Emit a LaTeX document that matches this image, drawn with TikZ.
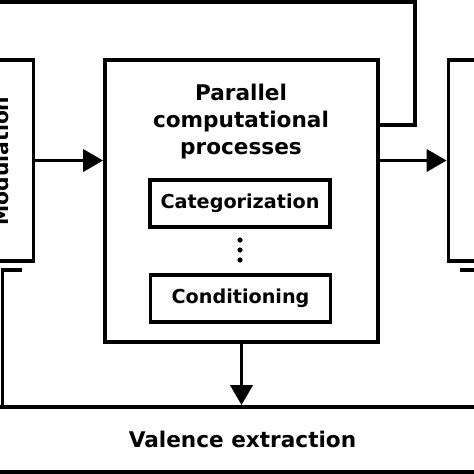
\documentclass[tikz,border=0pt]{standalone}
\usepackage{fontspec}
\setmainfont{DejaVu Sans}
\usepackage{tikz}
\usetikzlibrary{arrows.meta, positioning}
\newcommand{\blocksize}{\fontsize{21.6}{27}\selectfont}
\newcommand{\stagesize}{\fontsize{19.2}{24}\selectfont}
\tikzstyle{block} = [rectangle, draw, line width=3.8pt, inner sep=0pt, font=\blocksize\bfseries]
\tikzstyle{stage} = [rectangle, draw, line width=3.8pt, inner sep=0pt, minimum width=180pt, minimum height=47pt, font=\stagesize\bfseries]
\tikzstyle{wire} = [line width=3.8pt]
\tikzstyle{arrow} = [line width=3.8pt, -{Triangle[length=20pt, width=22pt]}]

\begin{document}
\begin{tikzpicture}[x=1pt, y=-1pt]
    \useasboundingbox (0,0) rectangle (474,474);
    \clip (0,0) rectangle (474,474);

    % Modulation (cut at the left edge)
    \node[block, minimum width=73.5pt, minimum height=201pt] (mod) at (-3.25, 160.5) {};
    \node[font=\fontsize{20.3}{25}\selectfont\bfseries, rotate=90, anchor=base, inner sep=0pt] (modtext) at (8.5, 161) {Modulation};

    % Parallel computational processes
    \node[block, minimum width=273pt, minimum height=282pt] (proc) at (241.5, 201) {};
    \node[font=\blocksize\bfseries, align=center, inner sep=0pt] (title) at (241, 121.5) {Parallel\\computational\\processes};

    % Inner stages
    \node[stage] (cat) at (240, 203.5) {Categorization};
    \node[stage] (cond) at (240.5, 298.5) {Conditioning};
    \foreach \dy in {-10, 0, 10}
        \fill (240, 250+\dy) circle (2.6);

    % Next stage (cut at the right edge)
    \node[block, minimum width=80pt, minimum height=201pt] (next) at (488.5, 160.5) {};

    % Valence extraction
    \node[block, minimum width=540pt, minimum height=65pt] (val) at (242.5, 439.5) {Valence extraction};

    % Arrows
    \draw[arrow] (mod.east) -- (mod.east -| proc.west);
    \draw[arrow] (proc.east |- next.west) -- (next.west);
    \draw[arrow] (proc.south) -- (proc.south |- val.north);

    % Feedback lines
    \coordinate (loopout) at (415, 125);
    \coordinate (looptop) at (415, 2);
    \draw[wire] (proc.east |- loopout) -- (loopout) -- (looptop) -- (-10, 2);
    \coordinate (backup) at (2.5, 270);
    \draw[wire] (val.north -| backup) -- (backup) -- (22, 270);
    \coordinate (nextfoot) at (460, 270);
    \draw[wire] (nextfoot) -- (480, 270);
\end{tikzpicture}
\end{document}
